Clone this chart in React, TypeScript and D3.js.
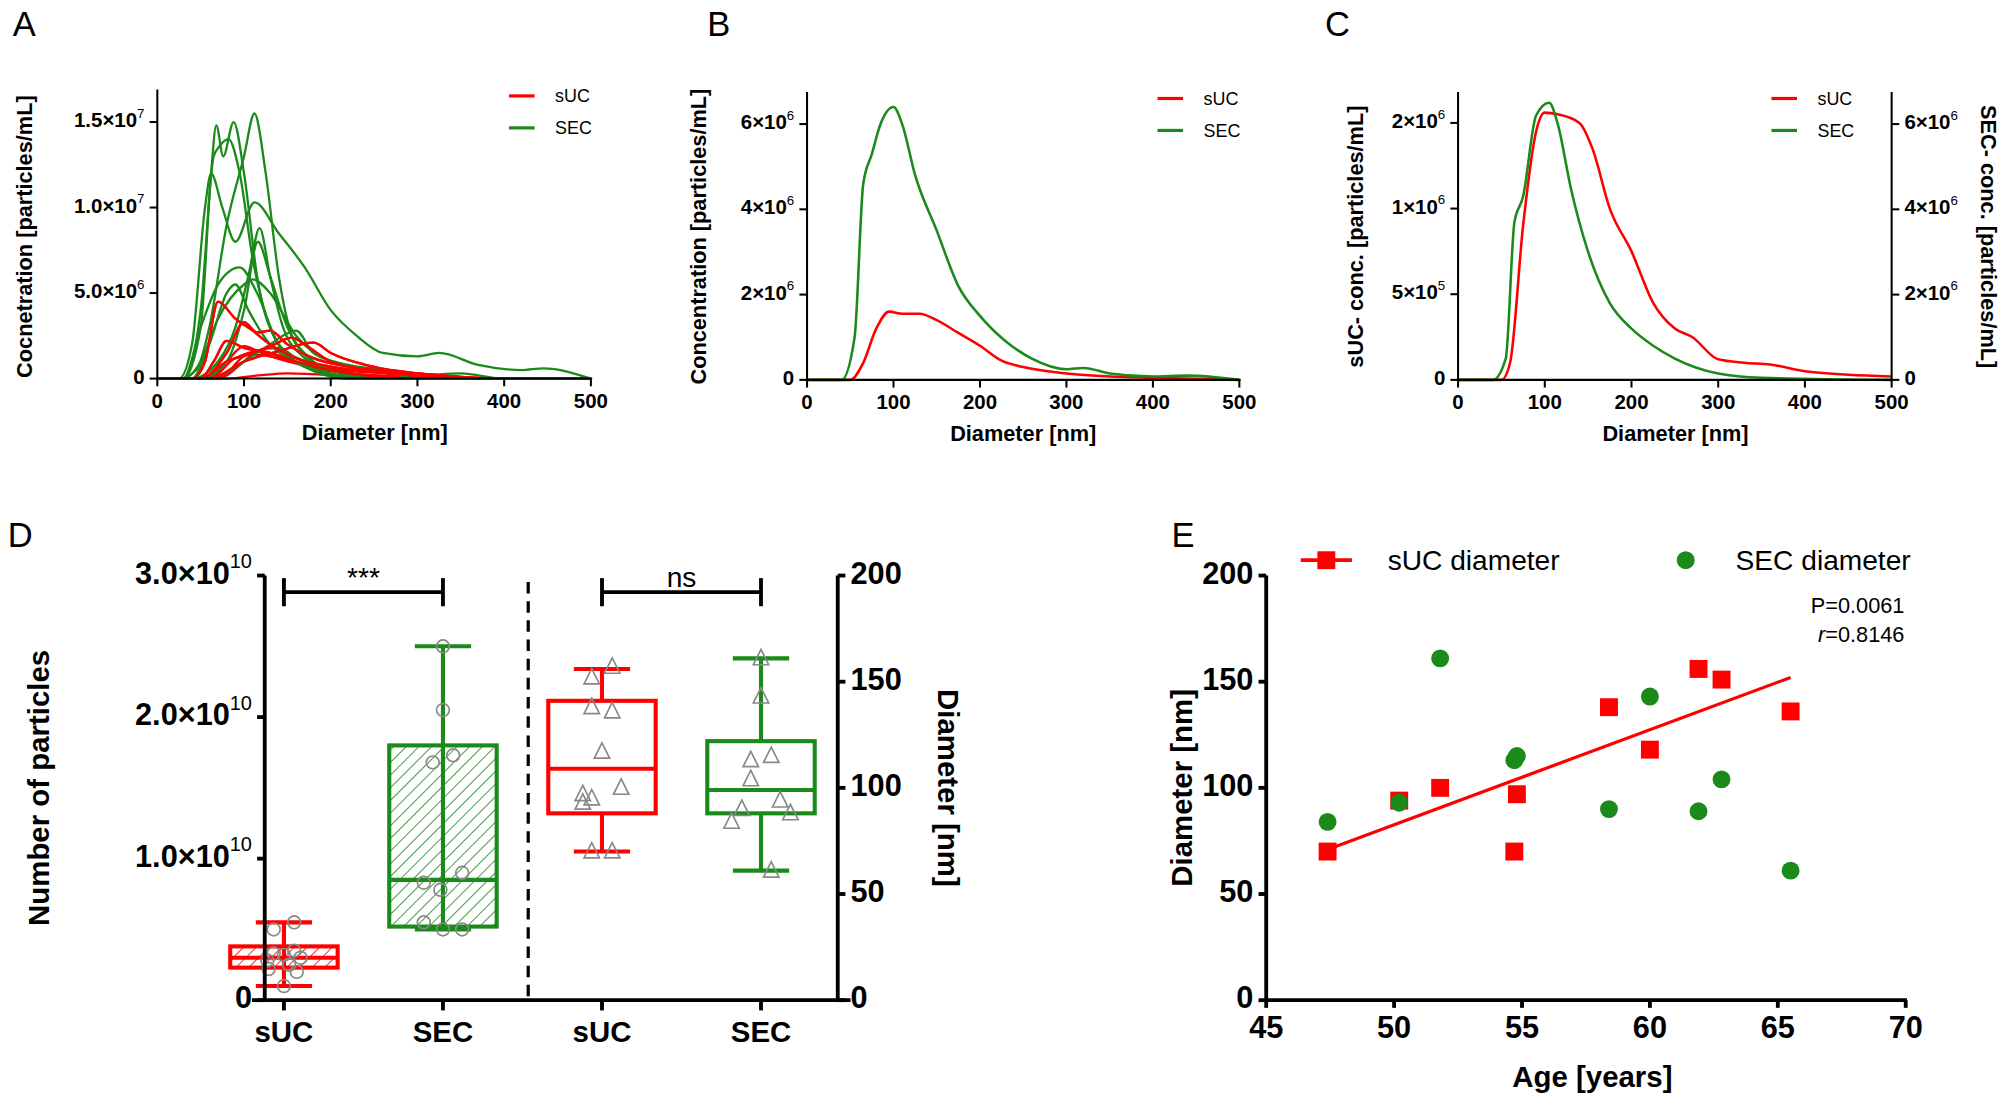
import React, { useEffect, useRef } from 'react';
import * as d3 from 'd3';

// ---- panel A: individual NTA size distributions (x in nm, y in 1e6 particles/mL)
const secCurvesA: [number, number][][] = [
  [[0, 0], [25, 0], [45, 0.5], [60, 3], [80, 9], [100, 13], [112, 15.5], [125, 12], [140, 6], [160, 2], [200, 0.5], [250, 0], [500, 0]],
  [[0, 0], [30, 0], [50, 3], [62, 12], [68, 14.8], [76, 13], [88, 15], [100, 12], [115, 6], [140, 2], [180, 0.5], [250, 0], [500, 0]],
  [[0, 0], [30, 0], [50, 4], [65, 13], [72, 13.6], [82, 14], [95, 12], [110, 7], [130, 3], [160, 1], [220, 0], [500, 0]],
  [[0, 0], [25, 0], [40, 2], [55, 10], [62, 12], [75, 10], [90, 8], [112, 10.3], [140, 8.5], [170, 6.5], [200, 4], [230, 2.5], [260, 1.5], [300, 1.3], [325, 1.5], [370, 0.8], [420, 0.5], [445, 0.6], [500, 0]],
  [[0, 0], [40, 0], [70, 1], [90, 3], [105, 6], [118, 8.8], [130, 6], [145, 3], [170, 1.2], [200, 0.5], [250, 0], [500, 0]],
  [[0, 0], [50, 0], [80, 1], [100, 4], [116, 8], [130, 6], [150, 3], [180, 1], [220, 0], [500, 0]],
  [[0, 0], [30, 0], [50, 3], [70, 5.5], [95, 6.5], [115, 5], [140, 2], [170, 1], [220, 0.3], [260, 0], [500, 0]],
  [[0, 0], [30, 0], [50, 1], [70, 3.5], [100, 5.5], [110, 5.8], [130, 5], [160, 2.5], [200, 1], [250, 0.5], [300, 0.2], [350, 0.3], [400, 0], [500, 0]],
  [[0, 0], [40, 0], [60, 2], [80, 5], [90, 5.5], [105, 4], [130, 2], [160, 1], [200, 0.3], [250, 0], [500, 0]],
  [[0, 0], [60, 0], [100, 1], [130, 2], [160, 2.8], [180, 1.5], [220, 0.8], [260, 0.5], [300, 0], [500, 0]],
];
const sucCurvesA: [number, number][][] = [
  [[0, 0], [40, 0], [55, 1], [70, 4.5], [90, 3.5], [110, 2.8], [130, 2], [160, 1.2], [200, 0.7], [250, 0.4], [300, 0.2], [400, 0], [500, 0]],
  [[0, 0], [50, 0], [80, 1.5], [100, 3.3], [115, 2.7], [130, 2.8], [150, 2], [180, 1.2], [220, 0.7], [280, 0.3], [350, 0], [500, 0]],
  [[0, 0], [50, 0], [80, 1], [110, 1.5], [135, 2], [155, 2.4], [170, 2], [200, 1], [250, 0.5], [300, 0.3], [400, 0], [500, 0]],
  [[0, 0], [60, 0], [100, 1], [140, 1.6], [180, 2.1], [200, 1.5], [240, 0.8], [300, 0.3], [400, 0], [500, 0]],
  [[0, 0], [50, 0], [65, 1], [80, 2.2], [100, 1.8], [130, 1.5], [160, 1], [200, 0.5], [300, 0], [500, 0]],
  [[0, 0], [60, 0], [90, 1.2], [140, 1.8], [160, 1.2], [200, 0.6], [260, 0.3], [350, 0], [500, 0]],
  [[0, 0], [60, 0], [80, 1], [100, 1.9], [120, 1.5], [150, 1], [200, 0.5], [300, 0], [500, 0]],
  [[0, 0], [70, 0], [100, 1], [110, 1.4], [140, 1.2], [180, 0.6], [250, 0.2], [350, 0], [500, 0]],
  [[0, 0], [70, 0], [100, 1.3], [120, 1.6], [140, 1.3], [170, 0.8], [220, 0.3], [300, 0], [500, 0]],
  [[0, 0], [80, 0], [120, 0.2], [150, 0.3], [200, 0.2], [250, 0], [500, 0]],
];

// ---- panel B: mean distributions (1e6 particles/mL)
const secMeanB: [number, number][] = [[0, 0], [40, 0], [55, 1], [65, 4.6], [75, 5.3], [85, 6], [100, 6.4], [110, 6], [125, 4.8], [150, 3.5], [175, 2.2], [200, 1.5], [230, 0.9], [260, 0.5], [300, 0.25], [320, 0.28], [350, 0.15], [400, 0.08], [440, 0.1], [500, 0]];
const sucMeanB: [number, number][] = [[0, 0], [50, 0], [65, 0.4], [80, 1.2], [95, 1.6], [110, 1.55], [130, 1.55], [150, 1.4], [175, 1.1], [200, 0.8], [225, 0.45], [250, 0.3], [300, 0.15], [350, 0.08], [400, 0.05], [500, 0]];

// ---- panel C: normalised (sUC left axis 1e6, SEC right axis 1e6)
const sucC: [number, number][] = [[0, 0], [50, 0], [60, 0.1], [75, 0.9], [90, 1.45], [100, 1.56], [115, 1.55], [140, 1.5], [155, 1.35], [175, 1.0], [200, 0.75], [225, 0.45], [250, 0.3], [270, 0.25], [300, 0.12], [330, 0.1], [360, 0.09], [400, 0.05], [450, 0.03], [500, 0.02]];
const secC: [number, number][] = [[0, 0], [40, 0], [55, 0.5], [65, 3.7], [75, 4.3], [90, 6.2], [105, 6.5], [115, 6], [130, 4.5], [150, 3], [175, 1.8], [200, 1.2], [225, 0.8], [250, 0.5], [300, 0.15], [350, 0.05], [500, 0]];
const cLeftTicks = [0, 0.5, 1, 1.5];
const cLeftLabels: [string, string][] = [['0', ''], ['5×10', '5'], ['1×10', '6'], ['2×10', '6']];

// ---- panel D: box plots (particles ×1e10, diameter nm)
const dCats = ['sUC', 'SEC', 'sUC ', 'SEC '];
const sucCount = [0.55, 0.5, 0.35, 0.33, 0.32, 0.3, 0.28, 0.25, 0.22, 0.2, 0.1];
const secCount = [2.5, 2.05, 1.73, 1.68, 0.9, 0.83, 0.78, 0.55, 0.5, 0.5];
const sucDiam = [157, 152, 138, 136, 117, 100, 97, 95, 93, 70, 70];
const secDiam = [161, 143, 115, 113, 104, 94, 90, 88, 84, 61];
const sucCountJit = [8, -8, 8, -8, 0, 13, -13, 4, -12, 10, 0];
const secCountJit = [0, 0, 8, -8, 15, -15, -2, -15, 0, 15];
const sucDiamJit = [8, -8, -8, 8, 0, 15, -15, -8, -15, -8, 8];
const secDiamJit = [0, 0, 8, -8, -8, 15, -15, 23, -23, 8];
// [min, q1, median, q3, max]
const boxStats = [
  [0.1, 0.23, 0.3, 0.38, 0.55],
  [0.5, 0.52, 0.85, 1.8, 2.5],
  [70, 88, 109, 141, 156],
  [61, 88, 99, 122, 161],
];

// ---- panel E: diameter vs age
const ages = [47.4, 50.2, 51.8, 54.7, 54.8, 58.4, 60.0, 61.9, 62.8, 65.5];
const sucAgeDiam = [70, 94, 100, 70, 97, 138, 118, 156, 151, 136];
const secAgeDiam = [84, 93, 161, 113, 115, 90, 143, 89, 104, 61];
const fitLine: [number, number][] = [[47.4, 71], [65.5, 152]];

const RED = '#ff0000';
const GREEN = '#1a8a1a';
const TICKF = '"Liberation Sans Narrow", "Liberation Sans", Arial, sans-serif';
const TITLEF = '"Liberation Sans", Arial, sans-serif';

type G = d3.Selection<SVGGElement, unknown, null, undefined>;

function sci(g: G, x: number, y: number, base: string, exp: string, size: number, anchor: string) {
  const t = g.append('text').attr('x', x).attr('y', y).attr('text-anchor', anchor)
    .attr('font-family', TICKF).attr('font-weight', 'bold').attr('font-size', size)
    .attr('dominant-baseline', 'middle');
  t.append('tspan').text(base);
  if (exp) t.append('tspan').attr('dy', -size * 0.4).attr('font-size', size * 0.65).attr('font-weight', 'normal').text(exp);
}

function yAxis(g: G, y: d3.ScaleLinear<number, number>, x: number, ticks: number[], labels: [string, string][], side: 'left' | 'right', size: number, width: number) {
  const [y0, y1] = y.range();
  g.append('line').attr('x1', x).attr('x2', x).attr('y1', y0).attr('y2', y1).attr('stroke', '#000').attr('stroke-width', width);
  const dir = side === 'left' ? -1 : 1;
  ticks.forEach((t, i) => {
    g.append('line').attr('x1', x).attr('x2', x + dir * 6).attr('y1', y(t)).attr('y2', y(t)).attr('stroke', '#000').attr('stroke-width', width);
    sci(g, x + dir * 10, y(t), labels[i][0], labels[i][1], size, side === 'left' ? 'end' : 'start');
  });
}

function xAxis(g: G, x: d3.ScaleLinear<number, number>, y: number, ticks: number[], size: number, width: number) {
  const [x0, x1] = x.range();
  g.append('line').attr('x1', x0 - 1).attr('x2', x1 + 1).attr('y1', y).attr('y2', y).attr('stroke', '#000').attr('stroke-width', width);
  ticks.forEach(t => {
    g.append('line').attr('x1', x(t)).attr('x2', x(t)).attr('y1', y).attr('y2', y + 6).attr('stroke', '#000').attr('stroke-width', width);
    g.append('text').attr('x', x(t)).attr('y', y + 10 + size * 0.8).attr('text-anchor', 'middle')
      .attr('font-family', TICKF).attr('font-weight', 'bold').attr('font-size', size).text(String(t));
  });
}

function title(g: G, x: number, y: number, txt: string, size: number, rot = 0) {
  g.append('text').attr('transform', `translate(${x},${y}) rotate(${rot})`).attr('text-anchor', 'middle')
    .attr('font-family', TITLEF).attr('font-weight', 'bold').attr('font-size', size).text(txt);
}

function letter(g: G, x: number, y: number, txt: string) {
  g.append('text').attr('x', x).attr('y', y).attr('font-family', TITLEF).attr('font-size', 27).text(txt);
}

function legend(g: G, x: number, y: number) {
  [['sUC', RED], ['SEC', GREEN]].forEach(([lab, c], i) => {
    g.append('line').attr('x1', x).attr('x2', x + 20).attr('y1', y + i * 25).attr('y2', y + i * 25).attr('stroke', c).attr('stroke-width', 2.5);
    g.append('text').attr('x', x + 36).attr('y', y + i * 25 + 5).attr('font-family', TITLEF).attr('font-size', 14).text(lab);
  });
}

export default function App() {
  const ref = useRef<SVGSVGElement>(null);
  useEffect(() => {
    const svg = d3.select(ref.current);
    svg.selectAll('*').remove();
    const defs = svg.append('defs');
    [['hatchRed', RED], ['hatchGreen', GREEN]].forEach(([id, c]) => {
      defs.append('pattern').attr('id', id).attr('patternUnits', 'userSpaceOnUse').attr('width', 7).attr('height', 7)
        .attr('patternTransform', 'rotate(45)')
        .append('line').attr('x1', 0).attr('x2', 0).attr('y1', 0).attr('y2', 7).attr('stroke', c).attr('stroke-width', 1.3);
    });
    const root = svg.append('g').attr('transform', 'scale(1.279)') as unknown as G;
    const curve = d3.line<[number, number]>().curve(d3.curveMonotoneX);

    // ---------- Panel A
    {
      const g = root.append('g') as G;
      letter(g, 10, 28, 'A');
      const x = d3.scaleLinear().domain([0, 500]).range([123, 462]);
      const y = d3.scaleLinear().domain([0, 16.9]).range([296, 70]);
      curve.x(d => x(d[0])).y(d => y(d[1]));
      sucCurvesA.forEach(c => g.append('path').attr('d', curve(c)).attr('fill', 'none').attr('stroke', RED).attr('stroke-width', 1.8));
      secCurvesA.forEach(c => g.append('path').attr('d', curve(c)).attr('fill', 'none').attr('stroke', GREEN).attr('stroke-width', 1.8));
      sucCurvesA.slice(0, 5).forEach(c => g.append('path').attr('d', curve(c)).attr('fill', 'none').attr('stroke', RED).attr('stroke-width', 1.8));
      yAxis(g, y, 123, [0, 5, 10, 15], [['0', ''], ['5.0×10', '6'], ['1.0×10', '7'], ['1.5×10', '7']], 'left', 16, 1.6);
      xAxis(g, x, 296, [0, 100, 200, 300, 400, 500], 16, 1.6);
      title(g, 293, 344, 'Diameter [nm]', 17);
      title(g, 25, 185, 'Cocnetration [particles/mL]', 17, -90);
      legend(g, 398, 75);
    }
    // ---------- Panel B
    {
      const g = root.append('g') as G;
      letter(g, 553, 28, 'B');
      const x = d3.scaleLinear().domain([0, 500]).range([631, 969]);
      const y = d3.scaleLinear().domain([0, 6.75]).range([297, 72]);
      curve.x(d => x(d[0])).y(d => y(d[1]));
      g.append('path').attr('d', curve(sucMeanB)).attr('fill', 'none').attr('stroke', RED).attr('stroke-width', 2);
      g.append('path').attr('d', curve(secMeanB)).attr('fill', 'none').attr('stroke', GREEN).attr('stroke-width', 2);
      yAxis(g, y, 631, [0, 2, 4, 6], [['0', ''], ['2×10', '6'], ['4×10', '6'], ['6×10', '6']], 'left', 16, 1.6);
      xAxis(g, x, 297, [0, 100, 200, 300, 400, 500], 16, 1.6);
      title(g, 800, 345, 'Diameter [nm]', 17);
      title(g, 552, 185, 'Concentration [particles/mL]', 17, -90);
      legend(g, 905, 77);
    }
    // ---------- Panel C
    {
      const g = root.append('g') as G;
      letter(g, 1036, 28, 'C');
      const x = d3.scaleLinear().domain([0, 500]).range([1140, 1479]);
      const yl = d3.scaleLinear().domain([0, 1.68]).range([297, 72]);
      const yr = d3.scaleLinear().domain([0, 6.75]).range([297, 72]);
      curve.x(d => x(d[0])).y(d => yl(d[1]));
      g.append('path').attr('d', curve(sucC)).attr('fill', 'none').attr('stroke', RED).attr('stroke-width', 2);
      curve.x(d => x(d[0])).y(d => yr(d[1]));
      g.append('path').attr('d', curve(secC)).attr('fill', 'none').attr('stroke', GREEN).attr('stroke-width', 2);
      yAxis(g, yl, 1140, cLeftTicks, cLeftLabels, 'left', 16, 1.6);
      yAxis(g, yr, 1479, [0, 2, 4, 6], [['0', ''], ['2×10', '6'], ['4×10', '6'], ['6×10', '6']], 'right', 16, 1.6);
      xAxis(g, x, 297, [0, 100, 200, 300, 400, 500], 16, 1.6);
      title(g, 1310, 345, 'Diameter [nm]', 17);
      title(g, 1066, 185, 'sUC- conc. [particles/mL]', 17, -90);
      title(g, 1549, 185, 'SEC- conc. [particles/mL]', 17, 90);
      legend(g, 1385, 77);
    }
    // ---------- Panel D
    {
      const g = root.append('g') as G;
      letter(g, 6, 428, 'D');
      const yL = d3.scaleLinear().domain([0, 3]).range([782, 450]);
      const yR = d3.scaleLinear().domain([0, 200]).range([782, 450]);
      const xB = d3.scalePoint<string>().domain(dCats).range([222, 595]);
      const hw = 42;
      const groups = [
        { vals: sucCount, jit: sucCountJit, y: yL, c: RED, fill: 'url(#hatchRed)', tri: false },
        { vals: secCount, jit: secCountJit, y: yL, c: GREEN, fill: 'url(#hatchGreen)', tri: false },
        { vals: sucDiam, jit: sucDiamJit, y: yR, c: RED, fill: '#fff', tri: true },
        { vals: secDiam, jit: secDiamJit, y: yR, c: GREEN, fill: '#fff', tri: true },
      ];
      groups.forEach((gr, i) => {
        const cx = xB(dCats[i])!;
        const [mn, q1, md, q3, mx] = boxStats[i];
        const y = gr.y;
        const s = (sel: any) => sel.attr('stroke', gr.c).attr('stroke-width', 3.2);
        s(g.append('line').attr('x1', cx).attr('x2', cx).attr('y1', y(mn)).attr('y2', y(mx)));
        s(g.append('line').attr('x1', cx - 22).attr('x2', cx + 22).attr('y1', y(mn)).attr('y2', y(mn)));
        s(g.append('line').attr('x1', cx - 22).attr('x2', cx + 22).attr('y1', y(mx)).attr('y2', y(mx)));
        s(g.append('rect').attr('x', cx - hw).attr('width', 2 * hw).attr('y', y(q3)).attr('height', y(q1) - y(q3)).attr('fill', gr.fill));
        s(g.append('line').attr('x1', cx - hw).attr('x2', cx + hw).attr('y1', y(md)).attr('y2', y(md)));
        gr.vals.forEach((v, j) => {
          const px = cx + gr.jit[j];
          const py = y(v);
          if (gr.tri) {
            g.append('path').attr('d', `M${px},${py - 7}L${px + 6},${py + 5}L${px - 6},${py + 5}Z`)
              .attr('fill', 'none').attr('stroke', '#888').attr('stroke-width', 1.3);
          } else {
            g.append('circle').attr('cx', px).attr('cy', py).attr('r', 5).attr('fill', 'none').attr('stroke', '#888').attr('stroke-width', 1.3);
          }
        });
      });
      g.append('line').attr('x1', 413).attr('x2', 413).attr('y1', 455).attr('y2', 782).attr('stroke', '#000')
        .attr('stroke-width', 2.5).attr('stroke-dasharray', '9,6');
      yAxis(g, yL, 207, [0, 1, 2, 3], [['0', ''], ['1.0×10', '10'], ['2.0×10', '10'], ['3.0×10', '10']], 'left', 24, 3);
      yAxis(g, yR, 655, [0, 50, 100, 150, 200], [['0', ''], ['50', ''], ['100', ''], ['150', ''], ['200', '']], 'right', 24, 3);
      g.append('line').attr('x1', 197).attr('x2', 665).attr('y1', 782).attr('y2', 782).attr('stroke', '#000').attr('stroke-width', 3);
      dCats.forEach(c => {
        const cx = xB(c)!;
        g.append('line').attr('x1', cx).attr('x2', cx).attr('y1', 782).attr('y2', 790).attr('stroke', '#000').attr('stroke-width', 3);
        g.append('text').attr('x', cx).attr('y', 815).attr('text-anchor', 'middle').attr('font-family', TICKF)
          .attr('font-weight', 'bold').attr('font-size', 23).text(c.trim());
      });
      [['***', 0, 1], ['ns', 2, 3]].forEach(([lab, a, b]) => {
        const x1 = xB(dCats[a as number])!;
        const x2 = xB(dCats[b as number])!;
        const st = (sel: any) => sel.attr('stroke', '#000').attr('stroke-width', 3);
        st(g.append('line').attr('x1', x1).attr('x2', x2).attr('y1', 463).attr('y2', 463));
        st(g.append('line').attr('x1', x1).attr('x2', x1).attr('y1', 452).attr('y2', 474));
        st(g.append('line').attr('x1', x2).attr('x2', x2).attr('y1', 452).attr('y2', 474));
        g.append('text').attr('x', (x1 + x2) / 2).attr('y', 459).attr('text-anchor', 'middle').attr('font-family', TICKF)
          .attr('font-size', 22).text(lab as string);
      });
      title(g, 38, 616, 'Number of particles', 23, -90);
      title(g, 733, 616, 'Diameter [nm]', 23, 90);
    }
    // ---------- Panel E
    {
      const g = root.append('g') as G;
      letter(g, 916, 428, 'E');
      const x = d3.scaleLinear().domain([45, 70]).range([990, 1490]);
      const y = d3.scaleLinear().domain([0, 200]).range([782, 450]);
      g.append('path').attr('d', d3.line<[number, number]>().x(d => x(d[0])).y(d => y(d[1]))(fitLine))
        .attr('stroke', RED).attr('stroke-width', 2.5).attr('fill', 'none');
      ages.forEach((a, i) => {
        g.append('rect').attr('x', x(a) - 7).attr('y', y(sucAgeDiam[i]) - 7).attr('width', 14).attr('height', 14).attr('fill', RED);
      });
      ages.forEach((a, i) => {
        g.append('circle').attr('cx', x(a)).attr('cy', y(secAgeDiam[i])).attr('r', 7).attr('fill', GREEN);
      });
      yAxis(g, y, 990, [0, 50, 100, 150, 200], [['0', ''], ['50', ''], ['100', ''], ['150', ''], ['200', '']], 'left', 24, 3);
      xAxis(g, x, 782, [45, 50, 55, 60, 65, 70], 24, 3);
      title(g, 1245, 850, 'Age [years]', 23);
      title(g, 932, 616, 'Diameter [nm]', 23, -90);
      g.append('line').attr('x1', 1017).attr('x2', 1057).attr('y1', 438).attr('y2', 438).attr('stroke', RED).attr('stroke-width', 3);
      g.append('rect').attr('x', 1030).attr('y', 431).attr('width', 14).attr('height', 14).attr('fill', RED);
      g.append('text').attr('x', 1085).attr('y', 446).attr('font-family', TICKF).attr('font-size', 22).text('sUC diameter');
      g.append('circle').attr('cx', 1318).attr('cy', 438).attr('r', 7).attr('fill', GREEN);
      g.append('text').attr('x', 1357).attr('y', 446).attr('font-family', TICKF).attr('font-size', 22).text('SEC diameter');
      g.append('text').attr('x', 1489).attr('y', 479).attr('text-anchor', 'end').attr('font-family', TICKF).attr('font-size', 17).text('P=0.0061');
      const r = g.append('text').attr('x', 1489).attr('y', 502).attr('text-anchor', 'end').attr('font-family', TICKF).attr('font-size', 17);
      r.append('tspan').attr('font-style', 'italic').text('r');
      r.append('tspan').text('=0.8146');
    }
  }, []);
  return (
    <svg ref={ref} width={2006} height={1100}
      style={{ position: 'absolute', left: 0, top: 0, background: '#fff', display: 'block' }} />
  );
}
